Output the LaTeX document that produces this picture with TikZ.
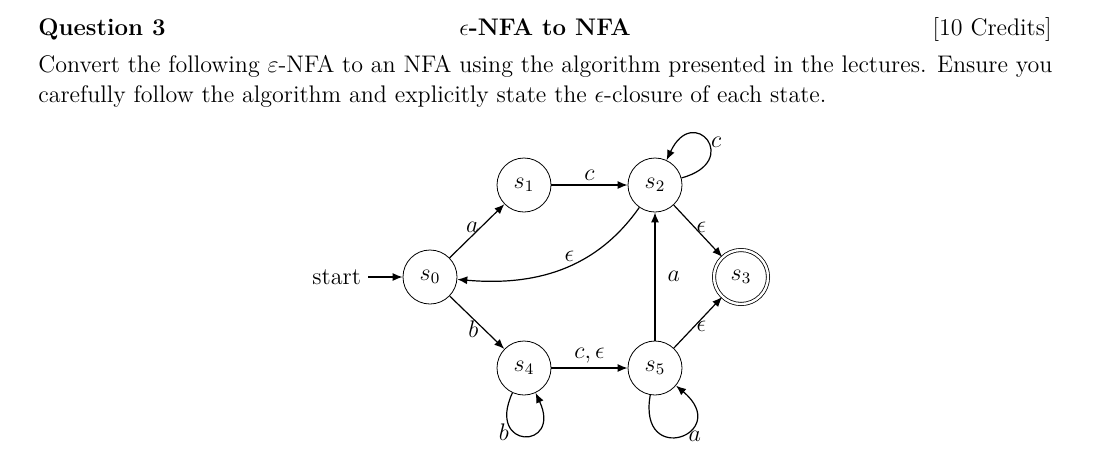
\documentclass[tikz,border=0pt]{standalone}
\usetikzlibrary{automata,arrows.meta}
\begin{document}
\begin{tikzpicture}[x=0.5pt,y=-0.5pt,font=\fontsize{12}{15}\selectfont,
  st/.style={circle,draw,minimum size=27pt,inner sep=0pt},
  acc/.style={st,double,double distance=1.2pt},
  ar/.style={-{Latex[length=5pt,width=4pt]},semithick},
  lb/.style={inner sep=2pt}]
\useasboundingbox (0,0) rectangle (1113,452);
\node[anchor=base west,inner sep=0pt,font=\fontsize{12}{15}\selectfont\bfseries] (q) at (38,35) {Question 3};
\node[anchor=base,inner sep=0pt,font=\fontsize{12}{15}\selectfont\bfseries] (t) at (545,35) {$\epsilon$-NFA to NFA};
\node[anchor=base east,inner sep=0pt] (c) at (1052,35) {[10 Credits]};
\node[anchor=north west,text width=507pt,align=justify,inner sep=0pt] (p) at (38,55)
 {Convert the following $\varepsilon$-NFA to an NFA using the algorithm presented in the lectures. Ensure you carefully follow the algorithm and explicitly state the $\epsilon$-closure of each state.};
\node[st] (s0) at (430,277) {$s_0$};
\node[st] (s1) at (524,185) {$s_1$};
\node[st] (s2) at (655,185) {$s_2$};
\node[acc] (s3) at (741,277) {$s_3$};
\node[st] (s4) at (524,368) {$s_4$};
\node[st] (s5) at (655,368) {$s_5$};
\node[anchor=east] (start) at (368,277) {start};
\draw[ar] (start) -- (s0);
\draw[ar] (s0) -- node[lb,above left=-3pt] {$a$} (s1);
\draw[ar] (s1) -- node[lb,above] {$c$} (s2);
\draw[ar] (s2) to[out=15,in=65,looseness=7] node[lb,above right=-2pt,pos=0.4] {$c$} (s2);
\draw[ar] (s2) -- node[lb,above right=-3pt] {$\epsilon$} (s3);
\draw[ar] (s2) to[out=-125,in=-5] node[lb,above,pos=0.45] {$\epsilon$} (s0);
\draw[ar] (s0) -- node[lb,below left=-3pt] {$b$} (s4);
\draw[ar] (s4) to[out=-115,in=-65,looseness=7] node[lb,left,pos=0.35] {$b$} (s4);
\draw[ar] (s4) -- node[lb,above] {$c,\epsilon$} (s5);
\draw[ar] (s5) -- node[lb,right=4pt] {$a$} (s2);
\draw[ar] (s5) -- node[lb,below right=-3pt] {$\epsilon$} (s3);
\draw[ar] (s5) to[out=-100,in=-40,looseness=7] node[lb,below right=-2pt,pos=0.6] {$a$} (s5);
\end{tikzpicture}
\end{document}
